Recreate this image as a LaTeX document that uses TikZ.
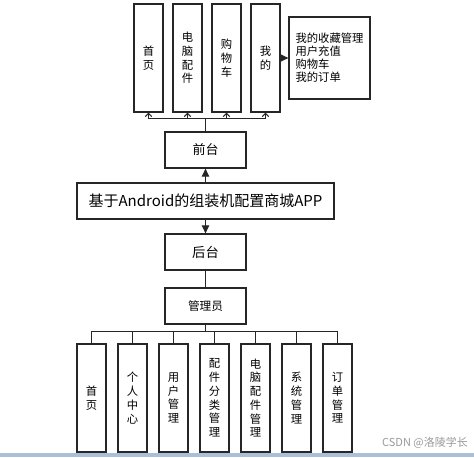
\documentclass[tikz,border=0pt]{standalone}
\usepackage{fontspec}
\setmainfont{Noto Sans CJK SC}
\usetikzlibrary{arrows.meta}
\definecolor{stripblue}{RGB}{170,192,216}
\begin{document}
\begin{tikzpicture}[line width=.75pt,draw=black!85]
    \tikzstyle{box} = [draw, line width=.9pt, inner sep=0pt, minimum width=60.75pt, minimum height=27pt]
    \tikzstyle{col} = [draw, line width=.9pt, inner sep=0pt, minimum width=21.75pt, minimum height=81pt, align=center, font=\fontsize{8.5pt}{10.3pt}\selectfont]
    \tikzstyle{fill arrow} = [-{Triangle[length=6pt,width=5.5pt]}]
    \tikzstyle{open arrow} = [-{Straight Barb[length=2.5pt,width=5pt]}]
    \useasboundingbox (0,0) rectangle (355.5pt,-342.75pt);
    \fill[stripblue] (0,-339.75pt) rectangle (355.5pt,-342.75pt);
        \node[box, minimum width=192.75pt, font=\fontsize{11.25pt}{13pt}\selectfont] (app) at (154.125pt,-150.75pt) {基于Android的组装机配置商城APP};
        % front end
        \node[box, yshift=38.25pt, font=\fontsize{9.75pt}{12pt}\selectfont] (front) at (app) {前台};
        \draw[fill arrow] (app) -- (front);
        \node[col, yshift=107.25pt, xshift=-42.75pt] (home) at (app) {首\\页};
        \node[col, yshift=107.25pt, xshift=-13.5pt] (parts) at (app) {电\\脑\\配\\件};
        \node[col, yshift=107.25pt, xshift=15.75pt] (cart) at (app) {购\\物\\车};
        \node[col, yshift=107.25pt, xshift=45pt] (mine) at (app) {我\\的};
        \draw[open arrow] (front.north) -- ++(0,9.75pt) -| (home.south);
        \draw[open arrow] (front.north) -- ++(0,9.75pt) -| (parts.south);
        \draw[open arrow] (front.north) -- ++(0,9.75pt) -| (cart.south);
        \draw[open arrow] (front.north) -- ++(0,9.75pt) -| (mine.south);
        \node[box, minimum height=61.5pt, yshift=107.25pt, xshift=93pt, align=left, font=\fontsize{8.5pt}{9.75pt}\selectfont] (minelist) at (app) {我的收藏管理\\用户充值\\购物车\\我的订单};
        \draw[fill arrow] (mine) -- (minelist);
        % back end
        \node[box, yshift=-38.25pt, font=\fontsize{10pt}{12pt}\selectfont] (back) at (app) {后台};
        \draw[fill arrow] (app) -- (back);
        \node[box, yshift=-78.75pt, font=\fontsize{8.75pt}{11pt}\selectfont] (admin) at (app) {管理员};
        \draw (back) -- (admin);
        \node[col, yshift=-147.75pt, xshift=-85.5pt] (ahome) at (app) {首\\页};
        \node[col, yshift=-147.75pt, xshift=-54.75pt] (center) at (app) {个\\人\\中\\心};
        \node[col, yshift=-147.75pt, xshift=-24pt] (users) at (app) {用\\户\\管\\理};
        \node[col, yshift=-147.75pt, xshift=6.75pt] (types) at (app) {配\\件\\分\\类\\管\\理};
        \node[col, yshift=-147.75pt, xshift=37.5pt] (aparts) at (app) {电\\脑\\配\\件\\管\\理};
        \node[col, yshift=-147.75pt, xshift=68.25pt] (system) at (app) {系\\统\\管\\理};
        \node[col, yshift=-147.75pt, xshift=99pt] (orders) at (app) {订\\单\\管\\理};
        \draw (admin.south) -- ++(0,-5.25pt) -| (ahome.north);
        \draw (admin.south) -- ++(0,-5.25pt) -| (center.north);
        \draw (admin.south) -- ++(0,-5.25pt) -| (users.north);
        \draw (admin.south) -- ++(0,-5.25pt) -| (types.north);
        \draw (admin.south) -- ++(0,-5.25pt) -| (aparts.north);
        \draw (admin.south) -- ++(0,-5.25pt) -| (system.north);
        \draw (admin.south) -- ++(0,-5.25pt) -| (orders.north);
        %%% watermark
        \node[text=black!40, font=\fontsize{8.25pt}{9pt}\selectfont] (mark) at (318.75pt,-332.25pt) {CSDN @洛陵学长};
    \end{tikzpicture}
\end{document}
